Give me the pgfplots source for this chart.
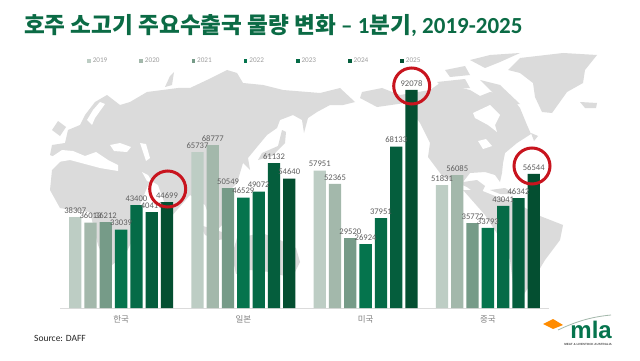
\documentclass[border=0pt]{standalone}
\usepackage{pgfplots}
\usepackage{pgfplotstable}
\usepackage{fontspec}
\pgfplotsset{compat=1.18}
\setmainfont{Carlito}
\newfontfamily\kr{Noto Sans CJK KR}
\newfontfamily\hv{Liberation Sans}
\definecolor{mapg}{HTML}{DBDBDB}
\definecolor{c19}{HTML}{BDCDC4}
\definecolor{c20}{HTML}{A3B8AB}
\definecolor{c21}{HTML}{769B88}
\definecolor{c22}{HTML}{05744D}
\definecolor{c23}{HTML}{056B47}
\definecolor{c24}{HTML}{055E3D}
\definecolor{c25}{HTML}{044F31}
\definecolor{titleg}{HTML}{0B6B45}
\definecolor{lab}{HTML}{5F5F5F}
\definecolor{circ}{HTML}{C8141E}
\pgfplotstableread{
i  a19   a20   a21   a22   a23   a24   a25
0  38307 36013 36212 33039 43400 40419 44699
1  65737 68777 50549 46529 49072 61132 54640
2  57951 52365 29520 26924 37951 68133 92078
3  51831 56085 35772 33793 43041 46342 56544
}\data
\begin{document}
\begin{tikzpicture}
\clip (0pt,0pt) rectangle (640pt,-361pt);
\fill[white] (0pt,0pt) rectangle (640pt,-361pt);
\begin{scope}[x=1pt,y=-1pt]
% world map backdrop
\fill[mapg] (107,95)--(120,105)--(130,102)--(147,92)--(178,88)--(190,88)--(207,80)--(227,70)--(237,73)--(243,83)--(263,85)--(283,90)--(320,93)--(340,88)--(355,102)--(343,105)--(330,105)--(317,112)--(308,118)--(304,133)--(302,120)--(293,115)--(280,120)--(277,128)--(267,135)--(257,147)--(248,158)--(250,170)--(243,163)--(237,183)--(225,195)--(232,215)--(215,232)--(205,205)--(190,195)--(170,218)--(158,185)--(150,180)--(140,205)--(130,205)--(117,173)--(133,205)--(140,212)--(135,235)--(125,255)--(108,268)--(98,245)--(90,212)--(72,210)--(60,208)--(50,190)--(52,170)--(62,160)--(50,155)--(52,145)--(65,143)--(68,130)--(80,125)--(85,115)--(95,102)--cycle;
\fill[mapg] (52,130)--(58,121)--(66,127)--(60,136)--cycle;
\fill[mapg] (174,72)--(172,85)--(165,87)--(170,76)--cycle;
\fill[white] (50,158)--(62,150)--(73,151)--(85,156)--(96,152)--(108,160)--(118,165)--(118,171)--(100,168)--(85,164)--(70,160)--(52,163)--cycle;
\fill[white] (110,145)--(120,143)--(131,147)--(127,152)--(114,151)--cycle;
\fill[white] (140,143)--(146,144)--(150,158)--(146,161)--(143,152)--cycle;
\fill[white] (142,172)--(148,175)--(153,183)--(147,181)--cycle;
\fill[white] (100,102)--(105,104)--(95,118)--(92,125)--(87,120)--(93,110)--cycle;
\fill[white] (280,122)--(289,118)--(290,130)--(282,132)--cycle;
\fill[mapg] (282,130)--(286,132)--(285,143)--(272,156)--(258,160)--(262,153)--(278,146)--cycle;
\fill[mapg] (237,238)--(262,233)--(280,240)--(296,248)--(300,262)--(292,278)--(270,272)--(250,270)--(236,274)--(232,255)--cycle;
\fill[mapg] (200,225)--(222,232)--(232,238)--(218,240)--(205,235)--cycle;
% north america
\fill[mapg] (362,92)--(382,88)--(400,95)--(430,90)--(440,83)--(470,90)--(480,96)--(490,92)--(510,95)--(520,108)--(527,125)--(531,134)--(517,143)--(505,153)--(503,163)--(502,173)--(500,182)--(495,175)--(485,172)--(470,173)--(463,182)--(477,180)--(485,186)--(482,192)--(490,197)--(480,197)--(467,187)--(443,177)--(428,157)--(430,143)--(420,123)--(405,103)--(377,107)--(360,98)--cycle;
\fill[white] (473,113)--(490,105)--(500,115)--(495,125)--(497,132)--(488,125)--(475,118)--cycle;
\fill[white] (478,141)--(486,139)--(492,146)--(483,149)--cycle;
\fill[mapg] (531,133)--(538,136)--(534,141)--cycle;
\fill[mapg] (437,82)--(465,79)--(470,88)--(445,90)--cycle;
\fill[mapg] (480,80)--(500,85)--(520,104)--(510,105)--(495,95)--cycle;
\fill[mapg] (470,60)--(490,55)--(520,53)--(500,62)--(485,68)--cycle;
\fill[mapg] (445,70)--(465,66)--(470,75)--(450,77)--cycle;
\fill[mapg] (508,70)--(520,58)--(563,53)--(597,55)--(585,70)--(583,83)--(567,92)--(552,113)--(542,112)--(535,97)--(533,83)--(520,73)--cycle;
\fill[mapg] (580,102)--(597,103)--(596,108)--(585,108)--cycle;
\fill[mapg] (490,190)--(505,188)--(515,194)--(500,194)--cycle;
% south america
\fill[mapg] (463,190)--(480,190)--(500,198)--(520,205)--(540,216)--(563,225)--(560,240)--(545,260)--(530,285)--(520,300)--(515,300)--(510,260)--(498,235)--(485,215)--cycle;
\end{scope}
\begin{axis}[
  at={(60pt,-308pt)}, anchor=south west,
  scale only axis, width=489pt, height=240pt,
  xmin=-0.5, xmax=3.5, ymin=0, ymax=101266,
  axis y line=none,
  axis x line*=bottom,
  axis line style={draw=mapg,-},
  xtick={0,1,2,3},
  xticklabels={한국,일본,미국,중국},
  major tick length=0pt,
  xticklabel style={font=\kr\fontsize{8.5}{10}\selectfont, text=lab!80, inner sep=0pt, yshift=-7.5pt},
  ybar=3pt, bar width=12.3pt,
  nodes near coords,
  point meta=y,
  nodes near coords style={font=\fontsize{8.6}{9}\selectfont, text=lab, inner sep=0pt, anchor=south, yshift=3.5pt,
     /pgf/number format/.cd, fixed, 1000 sep={}, assume math mode=true},
  legend columns=7,
  legend style={at={(0.049,1.029)}, anchor=west, draw=none, fill=none, font=\fontsize{7.2}{8}\selectfont, text=lab!60,
    /tikz/every even column/.append style={column sep=30pt}},
  legend image code/.code={\fill[#1] (0pt,-1.8pt) rectangle (3.6pt,1.8pt);},
  clip=false,
]
\addplot[fill=c19,draw=none] table[x=i,y=a19]{\data};
\addplot[fill=c20,draw=none] table[x=i,y=a20]{\data};
\addplot[fill=c21,draw=none] table[x=i,y=a21]{\data};
\addplot[fill=c22,draw=none] table[x=i,y=a22]{\data};
\addplot[fill=c23,draw=none] table[x=i,y=a23]{\data};
\addplot[fill=c24,draw=none] table[x=i,y=a24]{\data};
\addplot[fill=c25,draw=none] table[x=i,y=a25]{\data};
\legend{2019,2020,2021,2022,2023,2024,2025}
\end{axis}
\begin{scope}[x=1pt,y=-1pt]
\draw[circ,line width=3pt] (167.7,189) circle (18pt);
\draw[circ,line width=3pt] (411.7,86) circle (18pt);
\draw[circ,line width=3pt] (532,166) circle (18pt);
\node[anchor=west,inner sep=0pt,text=titleg] at (24,26) {{\kr\fontseries{m}\fontsize{22.6}{24}\selectfont\addfontfeature{FakeStretch=1}\bfseries 호주 소고기 주요수출국 물량 변화 }{\bfseries\fontsize{23}{24}\selectfont – 1}{\kr\bfseries\fontsize{22.6}{24}\selectfont 분기}{\bfseries\fontsize{23}{24}\selectfont , 2019-2025}};
\node[anchor=west,inner sep=0pt,text=black!85] at (34,338) {\fontsize{9.5}{11}\selectfont Source: DAFF};
% logo
\fill[orange!90!yellow] (543,324)--(553,319)--(563,325)--(553,329)--cycle;
\draw[c20,line width=0.8pt] (558,330) .. controls (575,322) and (590,317) .. (611,315);
\node[anchor=base east,inner sep=0pt,text=c22] at (612,338) {\hv\bfseries\fontsize{24}{24}\selectfont mla};
\node[anchor=east,inner sep=0pt,text=black!70] at (612,344) {\hv\bfseries\fontsize{3}{3}\selectfont MEAT \& LIVESTOCK AUSTRALIA};
\end{scope}
\end{tikzpicture}
\end{document}
